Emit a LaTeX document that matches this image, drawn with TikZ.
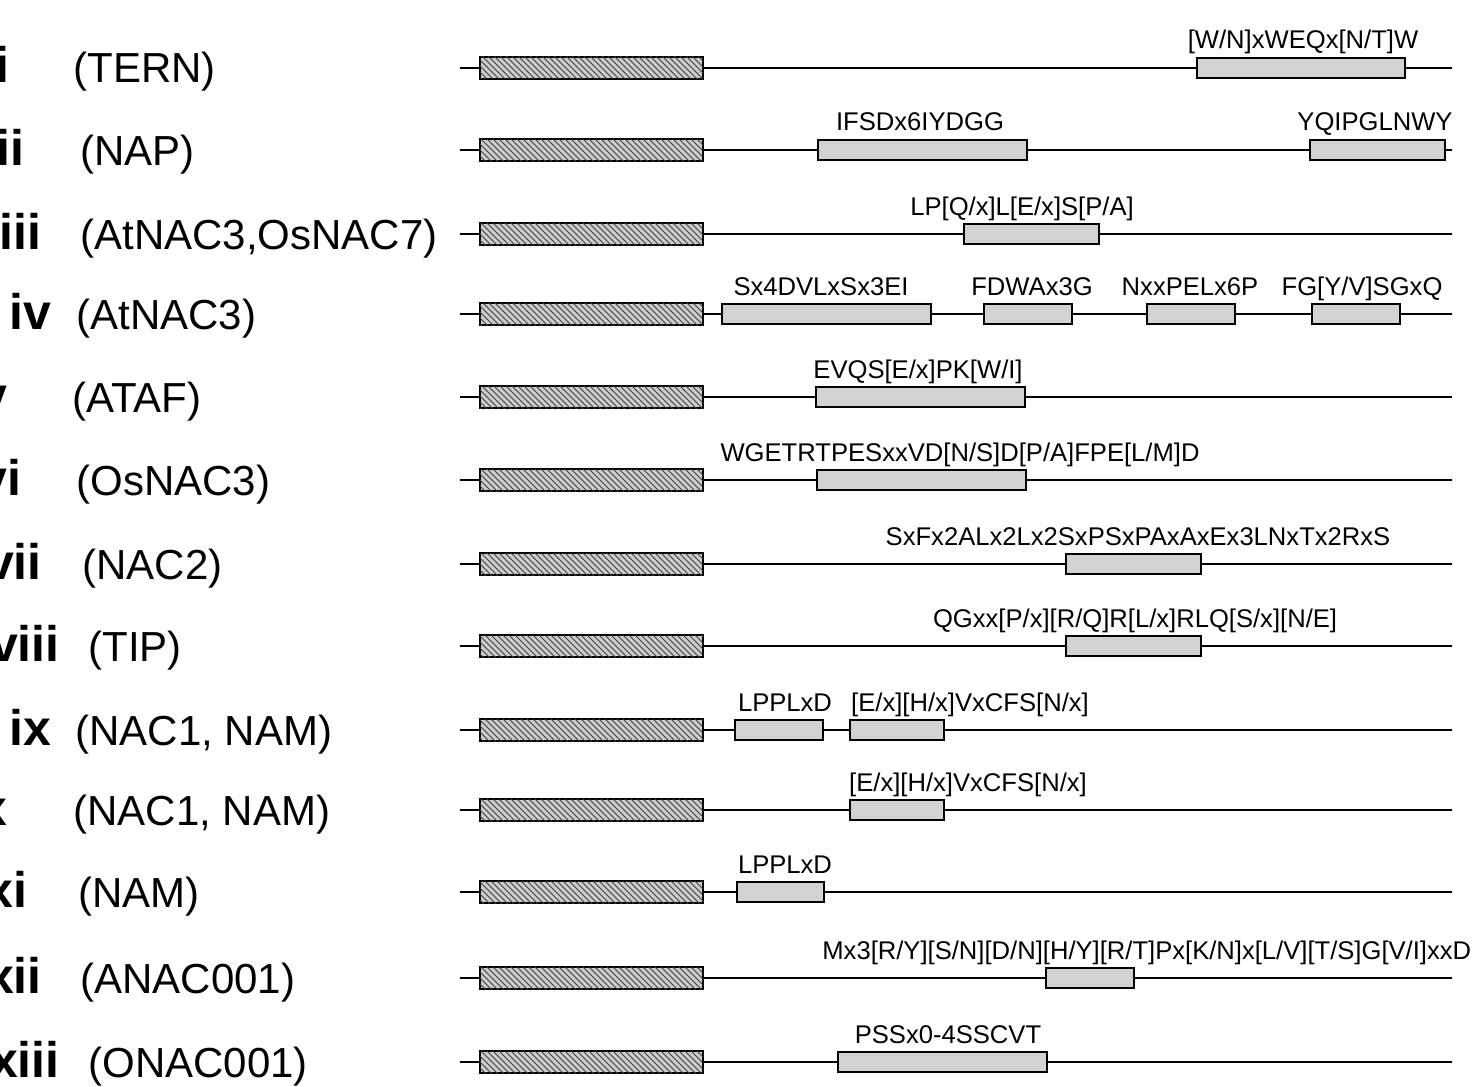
\documentclass[tikz,border=0pt]{standalone}
\usepackage{fontspec}
\setmainfont{Liberation Sans}
\usetikzlibrary{patterns}
\begin{document}
\begin{tikzpicture}[x=0.5pt,y=-0.5pt,
  bigbox/.style={draw,line width=1pt,fill=gray!40,postaction={pattern=north west lines,pattern color=black!75}},
  motif/.style={draw,line width=0.8pt,fill=gray!35},
  bb/.style={line width=0.7pt},
  lab/.style={font=\fontsize{12.8}{14}\selectfont,inner sep=0pt,anchor=base},
  num/.style={font=\fontsize{25}{28}\selectfont\bfseries,inner sep=0pt,anchor=base east},
  nm/.style={font=\fontsize{21}{24}\selectfont,inner sep=0pt,anchor=base west}]
\useasboundingbox (0,0) rectangle (1476,1086);
\clip (0,0) rectangle (1476,1086);
\foreach \y/\n/\ne/\t/\tx [count=\k] in {68/i/10/{(TERN)}/73, 150/ii/25/{(NAP)}/80, 234/iii/42/{(AtNAC3,OsNAC7)}/80, 314/iv/52/{(AtNAC3)}/76, 397/v/8/{(ATAF)}/72, 480/vi/22/{(OsNAC3)}/76, 564/vii/42/{(NAC2)}/82, 646/viii/60/{(TIP)}/88, 730/ix/52/{(NAC1, NAM)}/75, 810/x/8/{(NAC1, NAM)}/73, 892/xi/28/{(NAM)}/78, 978/xii/42/{(ANAC001)}/80, 1062/xiii/60/{(ONAC001)}/88}{
  \node[num] (n\k) at (\ne,\y+15) {\n};
  \node[nm] (t\k) at (\tx,\y+15) {\t};
  \coordinate (l\k) at (460,\y);
  \coordinate (r\k) at (1452,\y);
  \draw[bb] (l\k) -- (r\k);
  \draw[bigbox] (480,\y-11) rectangle (703,\y+11);
}
\newcommand{\mot}[5]{%
  \draw[motif] (#1,#3-10) rectangle (#2,#3+10);
  \node[lab] at (#4,#3-19) {#5};}
\mot{1197}{1405}{68}{1303}{[W/N]xWEQx[N/T]W}
\mot{818}{1027}{150}{920}{IFSDx6IYDGG}
\mot{1310}{1445}{150}{1375}{YQIPGLNWY}
\mot{964}{1099}{234}{1022}{LP[Q/x]L[E/x]S[P/A]}
\mot{722}{931}{314}{821}{Sx4DVLxSx3EI}
\mot{984}{1072}{314}{1032}{FDWAx3G}
\mot{1147}{1235}{314}{1190}{NxxPELx6P}
\mot{1312}{1400}{314}{1362}{FG[Y/V]SGxQ}
\mot{816}{1025}{397}{918}{EVQS[E/x]PK[W/I]}
\mot{817}{1026}{480}{960}{WGETRTPESxxVD[N/S]D[P/A]FPE[L/M]D}
\mot{1066}{1201}{564}{1138}{SxFx2ALx2Lx2SxPSxPAxAxEx3LNxTx2RxS}
\mot{1066}{1201}{646}{1135}{QGxx[P/x][R/Q]R[L/x]RLQ[S/x][N/E]}
\mot{735}{823}{730}{785}{LPPLxD}
\mot{850}{944}{730}{970}{[E/x][H/x]VxCFS[N/x]}
\mot{850}{944}{810}{968}{[E/x][H/x]VxCFS[N/x]}
\mot{737}{824}{892}{785}{LPPLxD}
\draw[motif] (1046,968) rectangle (1134,988);
\node[lab,anchor=base west] (m12) at (822,959) {Mx3[R/Y][S/N][D/N][H/Y][R/T]Px[K/N]x[L/V][T/S]G[V/I]xxD};
\mot{838}{1047}{1062}{948}{PSSx0-4SSCVT}
\end{tikzpicture}
\end{document}
